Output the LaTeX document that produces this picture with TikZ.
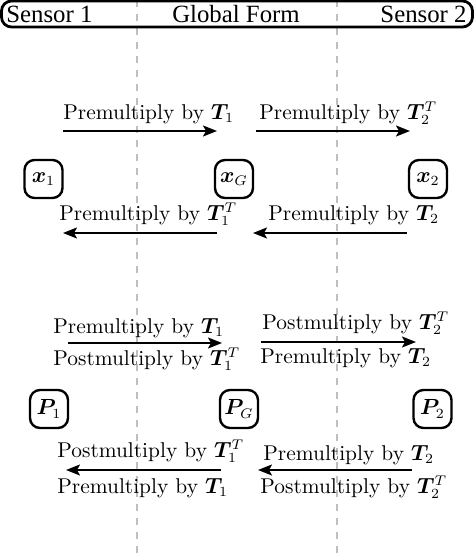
\documentclass[tikz,border=0pt]{standalone}
\usepackage{fontspec}
\usepackage{bm}
\newfontfamily\headfont{Liberation Serif}
\usetikzlibrary{arrows.meta,positioning}

\tikzset{
  var/.style={draw,line width=1.2pt,rounded corners=5pt,minimum width=19pt,minimum height=19pt,inner sep=1pt,font=\fontsize{10.7}{13}\selectfont},
  map/.style={line width=1pt,-{Stealth[length=7pt,width=5.5pt,inset=1.5pt]}},
  lbl/.style={anchor=base west,inner sep=0pt,font=\fontsize{10.7}{13}\selectfont},
  head/.style={inner sep=0pt,font=\headfont\fontsize{12.4}{14}\selectfont},
  divider/.style={black!25,line width=1pt,dash pattern=on 3.5pt off 3.5pt}
}

\begin{document}
\begin{tikzpicture}[x=0.5pt,y=-0.5pt]
	\useasboundingbox (0,0) rectangle (474,553);
	% dividers between the frames
	\draw[divider] (137,0) -- (137,553);
	\draw[divider] (337,0) -- (337,553);

	% header
	\node (bar) [draw,line width=1.4pt,rounded corners=5pt,minimum width=235.5pt,minimum height=13pt] at (237,14) {};
	\node (s1) [head,anchor=base west] at (6,22) {Sensor 1};
	\node (gf) [head,anchor=base] at (236,22) {Global Form};
	\node (s2) [head,anchor=base east] at (467,22) {Sensor 2};

	% state vectors
	\node (x1) [var] at (43.5,179) {$\bm{x}_1$};
	\node (xG) [var] at (234,179) {$\bm{x}_G$};
	\node (x2) [var] at (428,179) {$\bm{x}_2$};

	\coordinate (a1) at (63,131);
	\coordinate (b1) at (217,131);
	\coordinate (a2) at (256,131);
	\coordinate (b2) at (410,131);
	\coordinate (a3) at (217,233);
	\coordinate (b3) at (63,233);
	\coordinate (a4) at (407,233);
	\coordinate (b4) at (253,233);

	\draw[map] (a1) -- (b1);
	\draw[map] (a2) -- (b2);
	\draw[map] (a3) -- (b3);
	\draw[map] (a4) -- (b4);

	\node (t1) [lbl] at (63,119) {Premultiply by $\bm{T}_1$};
	\node (t2) [lbl] at (259,119) {Premultiply by $\bm{T}_2^T$};
	\node (t3) [lbl] at (59,220) {Premultiply by $\bm{T}_1^T$};
	\node (t4) [lbl] at (268,220) {Premultiply by $\bm{T}_2$};

	% covariances
	\node (P1) [var] at (49,409) {$\bm{P}_1$};
	\node (PG) [var] at (239,409) {$\bm{P}_G$};
	\node (P2) [var] at (432.5,409) {$\bm{P}_2$};

	\coordinate (c1) at (68,343);
	\coordinate (d1) at (222,343);
	\coordinate (c2) at (261,342);
	\coordinate (d2) at (416,342);
	\coordinate (c3) at (221,470);
	\coordinate (d3) at (66,470);
	\coordinate (c4) at (412,470);
	\coordinate (d4) at (258,470);

	\draw[map] (c1) -- (d1);
	\draw[map] (c2) -- (d2);
	\draw[map] (c3) -- (d3);
	\draw[map] (c4) -- (d4);

	\node (u1) [lbl] at (53,333) {Premultiply by $\bm{T}_1$};
	\node (v1) [lbl] at (53,365) {Postmultiply by $\bm{T}_1^T$};
	\node (u2) [lbl] at (262,329) {Postmultiply by $\bm{T}_2^T$};
	\node (v2) [lbl] at (260,363) {Premultiply by $\bm{T}_2$};
	\node (u3) [lbl] at (57,457) {Postmultiply by $\bm{T}_1^T$};
	\node (v3) [lbl] at (57,493) {Premultiply by $\bm{T}_1$};
	\node (u4) [lbl] at (263,460) {Premultiply by $\bm{T}_2$};
	\node (v4) [lbl] at (260,493) {Postmultiply by $\bm{T}_2^T$};
\end{tikzpicture}
\end{document}
